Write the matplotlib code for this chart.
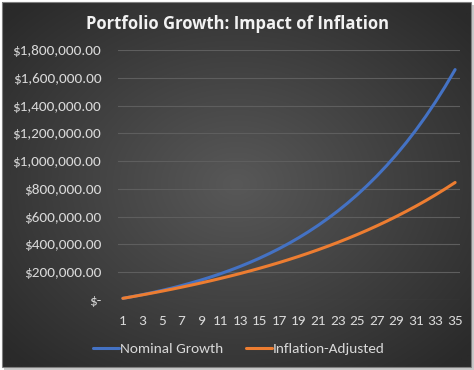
import numpy as np
import matplotlib
matplotlib.use("Agg")
import matplotlib.pyplot as plt
from matplotlib.patches import Rectangle
from matplotlib.ticker import FuncFormatter
from matplotlib import font_manager

years = list(range(1, 36))
nominal = [12000, 24800, 38600, 53300, 69000, 85800, 103800, 123100, 143800, 165800,
           189400, 214700, 241700, 270600, 301600, 334700, 370100, 408000, 448600, 491900,
           538400, 588100, 641200, 698100, 759000, 824100, 893800, 968400, 1048200, 1133600,
           1224900, 1322600, 1427200, 1539100, 1658900]
adjusted = [12000, 24300, 37100, 50200, 63700, 77700, 92200, 107200, 122700, 138700,
            155400, 172700, 190600, 209200, 228600, 248700, 269600, 291400, 314100, 337700,
            362300, 388000, 414800, 442700, 471900, 502300, 534100, 567300, 602100, 638400,
            676200, 715800, 757300, 800700, 846100]
series_names = ["Nominal Growth", "Inflation-Adjusted"]
title = "Portfolio Growth: Impact of Inflation"

available = {f.name for f in font_manager.fontManager.ttflist}
FONT = "Lato"
for cand in ["Carlito", "Liberation Sans Narrow", "Lato"]:
    if cand in available:
        FONT = cand
        break
LSIZE = {"Carlito": 11, "Liberation Sans Narrow": 11, "Lato": 9.6}[FONT]

W, H = 474, 370
fig = plt.figure(figsize=(W / 100, H / 100), dpi=100, facecolor="white")

bg = fig.add_axes([0, 0, 1, 1])
bg.set_xlim(0, W)
bg.set_ylim(H, 0)
bg.axis("off")
bg.add_patch(Rectangle((4, 5), W - 4, H - 5, facecolor="#c9c9c9", edgecolor="none"))
x0, y0, x1, y1 = 2, 2, 471, 367
gx = np.linspace(-1, 1, 300)
gy = np.linspace(-1, 1, 240)
XX, YY = np.meshgrid(gx, gy)
R = np.clip(np.sqrt(XX ** 2 + YY ** 2) / 1.35, 0, 1)
c_in = np.array([0x58, 0x58, 0x58]) / 255
c_out = np.array([0x2a, 0x2a, 0x2a]) / 255
img = c_in[None, None, :] * (1 - R[..., None]) + c_out[None, None, :] * R[..., None]
bg.imshow(img, extent=(x0, x1, y1, y0), aspect="auto", interpolation="bilinear", zorder=2)
bg.add_patch(Rectangle((x0, y0), x1 - x0, y1 - y0, facecolor="none",
                       edgecolor="#7f7f7f", linewidth=0.8, zorder=3))

ax = fig.add_axes([118 / W, 1 - 300 / H, (460 - 118) / W, (300 - 50) / H])
ax.patch.set_alpha(0)
l1, = ax.plot(years, nominal, color="#4472C4", linewidth=2.2, solid_capstyle="round", zorder=3)
l2, = ax.plot(years, adjusted, color="#ED7D31", linewidth=2.2, solid_capstyle="round", zorder=4)
ax.set_xlim(0.5, 35.5)
ax.set_ylim(0, 1800000)
ax.set_yticks(np.arange(0, 1800001, 200000))
ax.set_xticks(years[::2])
ax.yaxis.set_major_formatter(FuncFormatter(lambda v, p: "$-" if v == 0 else f"${v:,.2f}"))
ax.grid(axis="y", color="#5e5e5e", linewidth=0.8)
ax.set_axisbelow(True)
for s in ax.spines.values():
    s.set_visible(False)
ax.tick_params(length=0, colors="#d9d9d9", labelsize=LSIZE, labelfontfamily=FONT)
ax.tick_params(axis="y", pad=12)
ax.tick_params(axis="x", pad=11)

fig.text(237 / W, 1 - 24 / H, title, ha="center", va="center", color="#f2f2f2",
         fontsize=12, fontweight="bold", family="Open Sans")

leg = fig.legend([l1, l2], series_names, loc="center", bbox_to_anchor=(239 / W, 1 - 349 / H),
                 ncol=2, frameon=False, handlelength=1.7, handletextpad=0.05, columnspacing=1.5,
                 prop={"family": FONT, "size": LSIZE})
for t in leg.get_texts():
    t.set_color("#d9d9d9")

fig.savefig("out.png", dpi=100, facecolor="white")
